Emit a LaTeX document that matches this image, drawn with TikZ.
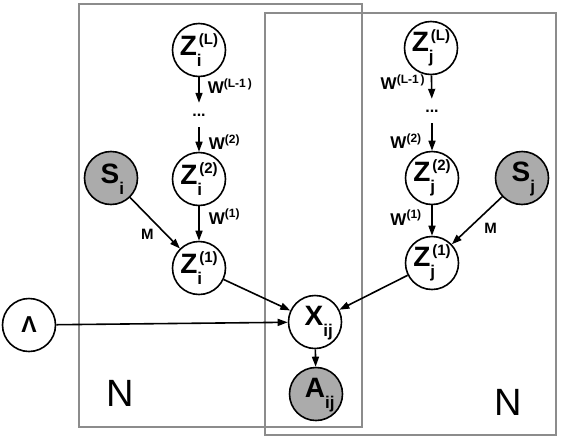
\documentclass[tikz,border=0pt]{standalone}
\usepackage{fontspec}
\setmainfont{Liberation Sans}
\usetikzlibrary{arrows.meta}

\newcommand{\bigvar}[3]{\fontsize{28}{28}\selectfont\bfseries #1\rlap{\raisebox{-11pt}{\fontsize{17}{17}\selectfont #2}}\hspace{2pt}\raisebox{10.5pt}{\fontsize{15}{15}\selectfont\vphantom{(}#3}}
\newcommand{\wlab}[1]{\fontsize{17}{17}\selectfont\bfseries W\raisebox{6.5pt}{\fontsize{12}{12}\selectfont #1}}

\tikzset{
  latent/.style={circle, draw=black, line width=1.6pt, fill=white, minimum size=53pt, inner sep=0pt},
  observed/.style={latent, fill=black!33},
  plate/.style={draw=black!45, line width=1.6pt},
  edge/.style={-{Triangle[length=10pt,width=7pt]}, line width=1.6pt},
  wlabel/.style={inner sep=1pt},
  dotnode/.style={minimum height=24pt, inner sep=0pt},
}

\begin{document}
\begin{tikzpicture}[x=10pt, y=-10pt]
\useasboundingbox (0,0) rectangle (56.1,43.9);

% plates
\draw[plate] (7.9,0.4) rectangle (36.2,42.7);
\draw[plate] (26.5,1.3) rectangle (55.6,43.5);
\node at (12.0,39.3) {\fontsize{38}{38}\selectfont N};
\node at (50.8,40.2) {\fontsize{38}{38}\selectfont N};

% left column
\node[latent] (zil) at (19.9,5.0) {\bigvar{Z}{i}{(L)}};
\node[dotnode] (dotsi) at (19.9,11.5) {\fontsize{16}{16}\selectfont\bfseries ...};
\node[latent] (zi2) at (19.9,17.9) {\bigvar{Z}{i}{(2)}};
\node[latent] (zi1) at (19.9,26.8) {\bigvar{Z}{i}{(1)}};
\node[observed] (si) at (11.1,17.8) {\bigvar{S}{i}{}};

% right column
\node[latent] (zjl) at (43.1,4.8) {\bigvar{Z}{j}{(L)}};
\node[dotnode] (dotsj) at (43.2,11.1) {\fontsize{16}{16}\selectfont\bfseries ...};
\node[latent] (zj2) at (43.2,17.8) {\bigvar{Z}{j}{(2)}};
\node[latent] (zj1) at (43.2,26.3) {\bigvar{Z}{j}{(1)}};
\node[observed] (sj) at (52.2,17.8) {\bigvar{S}{j}{}};

% middle
\node[latent] (lambda) at (2.9,32.5) {\fontsize{23}{23}\selectfont\bfseries Λ};
\node[latent] (xij) at (31.5,32.2) {\bigvar{X}{ij}{}};
\node[observed] (aij) at (31.6,39.4) {\bigvar{A}{ij}{}};

% edges
\draw[edge] (zil) -- node[wlabel, right=7pt, pos=0.35] {\wlab{(L-1\,)}} (dotsi);
\draw[edge] (dotsi) -- node[wlabel, right=8pt, pos=0.6] {\wlab{(2)}} (zi2);
\draw[edge] (zi2) -- node[wlabel, right=8pt, pos=0.3] {\wlab{(1)}} (zi1);
\draw[edge] (si) -- node[wlabel, below left=2pt, pos=0.55] {\fontsize{15}{15}\selectfont\bfseries M} (zi1);

\draw[edge] (zjl) -- node[wlabel, left=5pt, pos=0.3] {\wlab{(L-1\,)}} (dotsj);
\draw[edge] (dotsj) -- node[wlabel, left=9pt, pos=0.65] {\wlab{(2)}} (zj2);
\draw[edge] (zj2) -- node[wlabel, left=9pt, pos=0.4] {\wlab{(1)}} (zj1);
\draw[edge] (sj) -- node[wlabel, below right=3pt, pos=0.45] {\fontsize{15}{15}\selectfont\bfseries M} (zj1);

\draw[edge] (zi1) -- (xij);
\draw[edge] (zj1) -- (xij);
\draw[edge] (lambda) -- (xij);
\draw[edge] (xij) -- (aij);

\end{tikzpicture}
\end{document}
